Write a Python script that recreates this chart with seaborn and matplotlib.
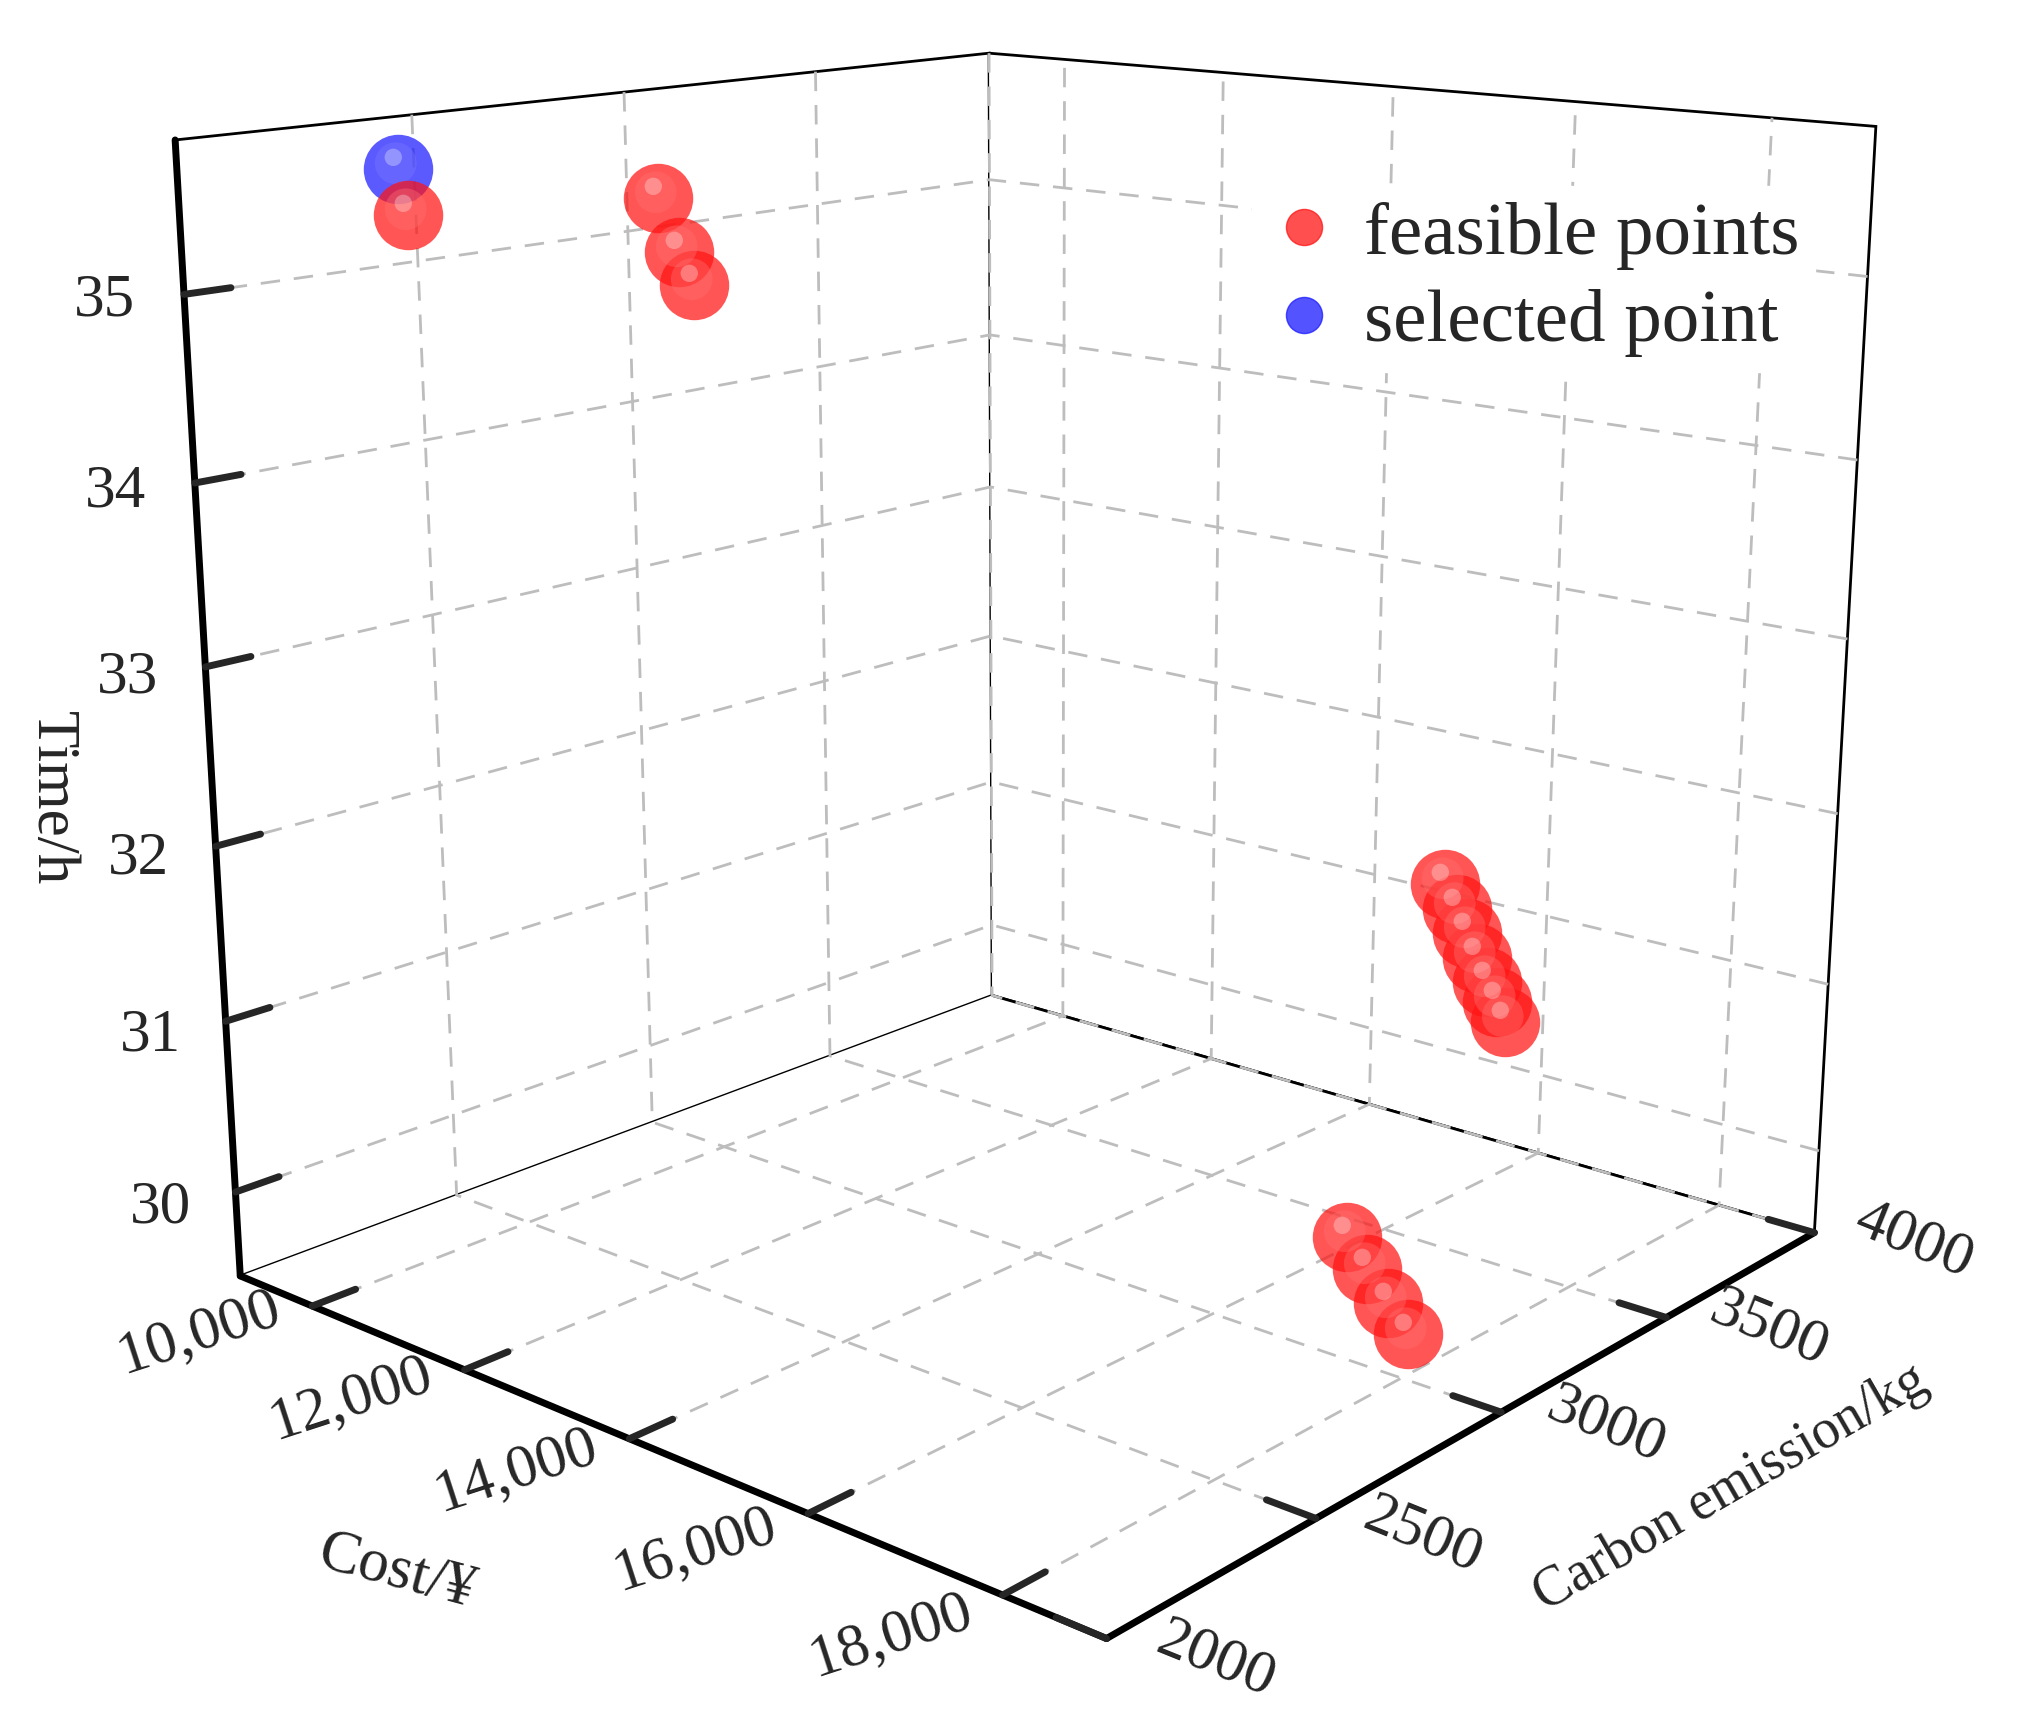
import numpy as np
import matplotlib
matplotlib.use("Agg")
import matplotlib.pyplot as plt
import seaborn as sns
from matplotlib.path import Path
from matplotlib.lines import Line2D
from mpl_toolkits.mplot3d import proj3d

# data
cost_feasible = [10100, 11950, 12100, 12170,
                 18020, 18040, 18060, 18080, 18100, 18120, 18140,
                 18210, 18240, 18270, 18300]
carbon_feasible = [2300, 2520, 2535, 2555,
                   3080, 3110, 3135, 3160, 3185, 3210, 3230,
                   2780, 2830, 2880, 2930]
time_feasible = [35.38, 35.5, 35.22, 35.05,
                 32.15, 32.0, 31.85, 31.7, 31.55, 31.42, 31.3,
                 30.55, 30.33, 30.1, 29.88]
cost_selected = [10050]
carbon_selected = [2290]
time_selected = [35.62]

cost_ticks = [10000, 12000, 14000, 16000, 18000]
carbon_ticks = [2000, 2500, 3000, 3500, 4000]
time_ticks = [30, 31, 32, 33, 34, 35]

xlim = (9000, 19000)
ylim = (2000, 4000)
zlim = (29.5, 35.8)

sns.set_style("white")
plt.rcParams["font.family"] = ["Liberation Serif", "DejaVu Serif"]
plt.rcParams["grid.color"] = "#bdbdbd"
plt.rcParams["grid.linestyle"] = "--"
plt.rcParams["grid.linewidth"] = 2.0
plt.rcParams["lines.dashed_pattern"] = [7, 5]


def disc(r, dx=0.0, dy=0.0):
    # circle inside a fixed [-1, 1] frame so all layers share one scale
    c = Path.circle((dx, dy), r)
    verts = np.vstack([[[-1, -1]], [[1, 1]], c.vertices])
    codes = np.concatenate([[Path.MOVETO, Path.MOVETO], c.codes])
    return Path(verts, codes)


ball = disc(1.0)
glow = disc(0.6, -0.08, 0.18)
spot = disc(0.25, -0.15, 0.35)

fig = plt.figure(figsize=(20.3, 17.09), dpi=100)
ax = fig.add_axes([0.0, 0.068, 1.0, 1.0], projection="3d")
ax.computed_zorder = False
ax.set_proj_type("persp", focal_length=0.42)
ax.view_init(elev=15, azim=-49)
ax.set_box_aspect((1, 1, 1.0), zoom=1.14)

ax.set_xlim(*xlim)
ax.set_ylim(*ylim)
ax.set_zlim(*zlim)


def balls(xs, ys, zs, base, light, s):
    ax.scatter(xs, ys, zs, s=s, marker=ball, color=base, alpha=0.72,
               linewidths=0, depthshade=False)
    ax.scatter(xs, ys, zs, s=s, marker=glow, color=light, alpha=0.4,
               linewidths=0, depthshade=False)
    ax.scatter(xs, ys, zs, s=s, marker=spot, color="white", alpha=0.3,
               linewidths=0, depthshade=False)


balls(cost_selected, carbon_selected, time_selected, "#1a1aff", "#7a7aff", 2500)
balls(cost_feasible, carbon_feasible, time_feasible, "#ff1414", "#ff7070", 2500)

ax.set_xticks(cost_ticks)
ax.set_yticks(carbon_ticks)
ax.set_zticks(time_ticks)
ax.set_xticklabels([])
ax.set_yticklabels([])
ax.set_zticklabels([])
ax.zaxis.set_ticks_position("lower")

for axis in (ax.xaxis, ax.yaxis, ax.zaxis):
    axis.set_pane_color((1, 1, 1, 1))
    axis.pane.set_edgecolor("black")
    axis.pane.set_linewidth(2)
    axis.line.set_linewidth(5)
    axis.line.set_color("black")
    axis._axinfo["tick"]["inward_factor"] = 0.0
    axis._axinfo["tick"]["outward_factor"] = 0.6
    axis._axinfo["tick"]["linewidth"] = {True: 5, False: 2}

handles = [
    Line2D([], [], ls="none", marker="o", ms=26, color="#ff1414", alpha=0.75),
    Line2D([], [], ls="none", marker="o", ms=26, color="#1a1aff", alpha=0.75),
]
ax.legend(handles, ["feasible points", "selected point"], loc="upper right",
          bbox_to_anchor=(0.99, 0.845), fontsize=54, frameon=True,
          framealpha=1, edgecolor="white", handletextpad=0.3,
          handlelength=1.0, labelspacing=0.25, borderpad=0.2)

# tick labels and axis titles: project 3D anchor points, then draw 2D text
fig.canvas.draw()
M = ax.M


def label3d(x, y, z, s, **kw):
    px, py, _ = proj3d.proj_transform(x, y, z, M)
    ax.text2D(px, py, s, transform=ax.transData, ha="center", va="center", **kw)


fs = 44
for v in cost_ticks:
    label3d(v, 1760, 29.6, f"{v:,.0f}", fontsize=fs, rotation=18)
for v in carbon_ticks:
    label3d(20000, v, 29.62, f"{v}", fontsize=fs, rotation=-22)
for v in time_ticks:
    label3d(8800, 1870, v, f"{v}", fontsize=fs)

label3d(14600, 1420, 29.6, "Cost/¥", fontsize=44, rotation=-15)
label3d(21300, 2950, 29.6, "Carbon emission/kg", fontsize=40, rotation=30)
label3d(8100, 1800, 32.3, "Time/h", fontsize=44, rotation=-90)

fig.savefig("out.png", dpi=100, facecolor="white")
